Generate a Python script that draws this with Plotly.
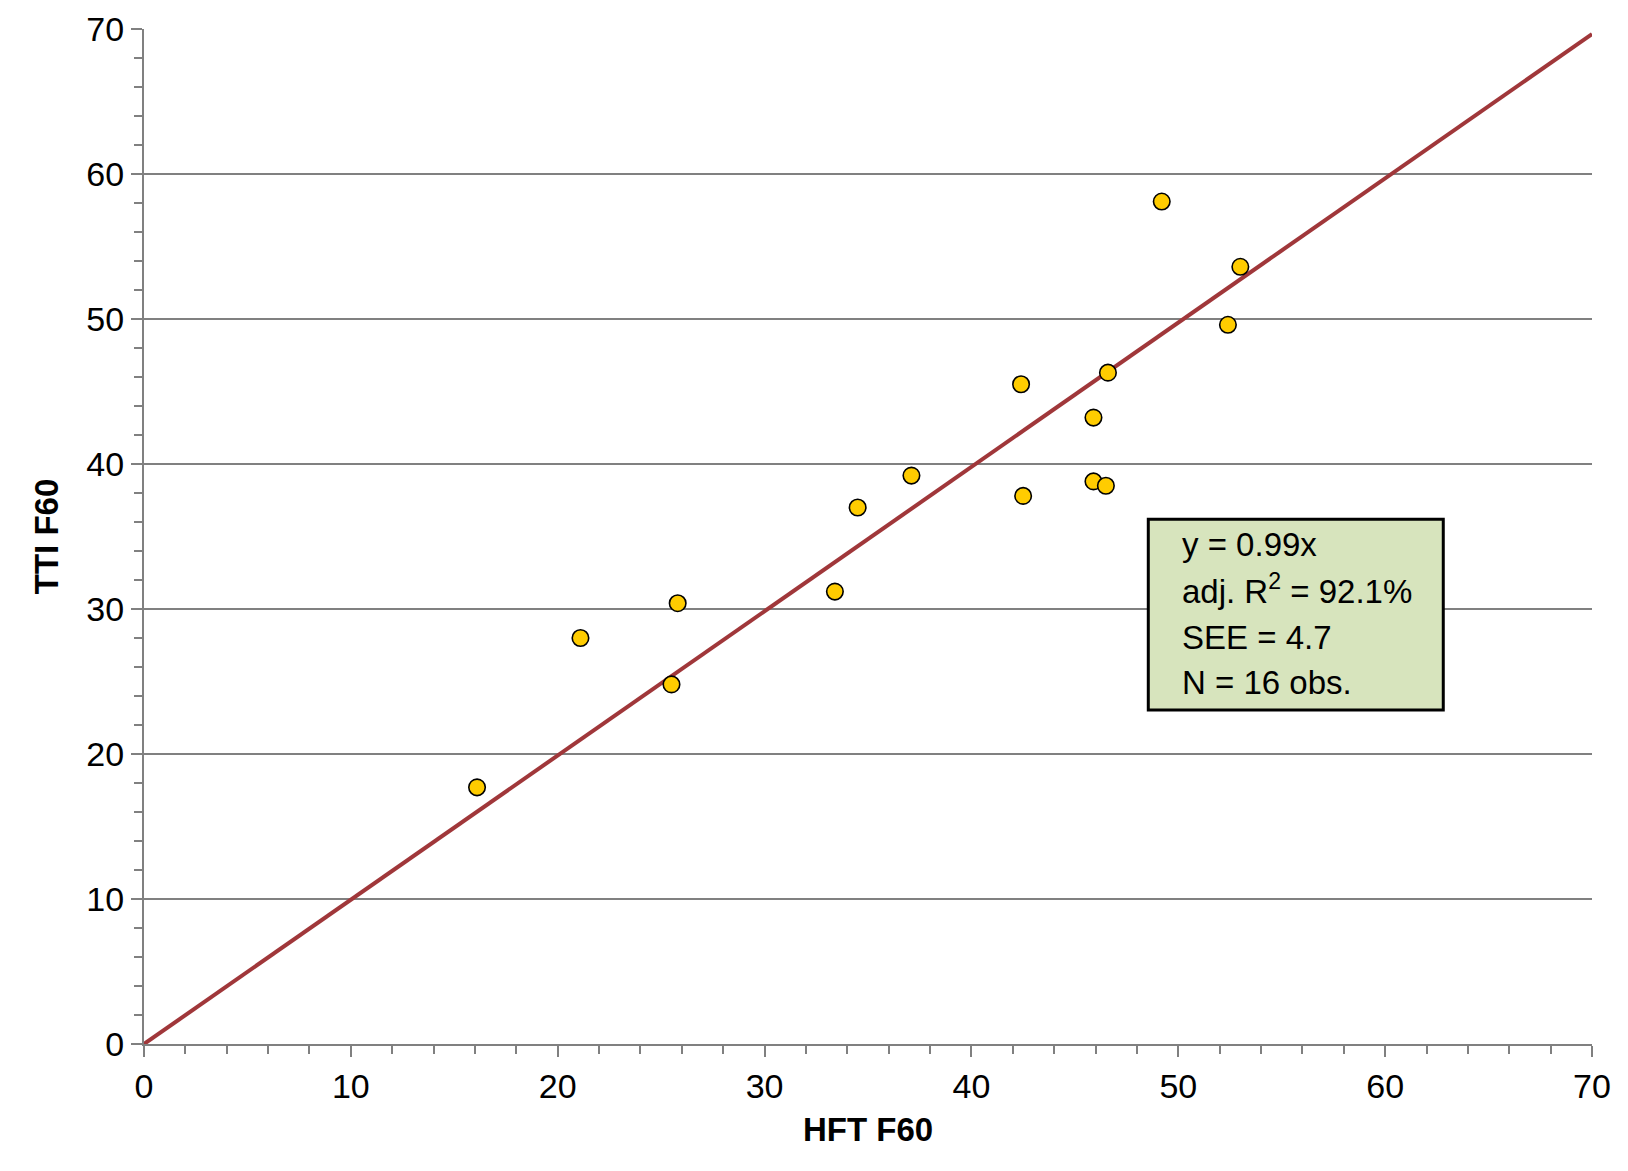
import plotly.graph_objects as go

# Data
hft_f60 = [16.1, 21.1, 25.5, 25.8, 33.4, 34.5, 37.1, 42.4, 42.5, 45.9, 45.9, 46.5, 46.6, 49.2, 52.4, 53.0]
tti_f60 = [17.7, 28.0, 24.8, 30.4, 31.2, 37.0, 39.2, 45.5, 37.8, 43.2, 38.8, 38.5, 46.3, 58.1, 49.6, 53.6]
trend_x = [0, 70]
trend_y = [0, 69.65]
stats_lines = ["y = 0.99x", "adj. R<sup>2</sup> = 92.1%", "SEE = 4.7", "N = 16 obs."]
x_title = "HFT F60"
y_title = "TTI F60"
tick_vals = [0, 10, 20, 30, 40, 50, 60, 70]

FONT = "Liberation Sans, Arial, Helvetica, sans-serif"
GRAY = "#808080"

fig = go.Figure()
fig.add_trace(go.Scatter(
    x=trend_x, y=trend_y, mode="lines",
    line=dict(color="#A0373A", width=4),
    showlegend=False, hoverinfo="skip"))
fig.add_trace(go.Scatter(
    x=hft_f60, y=tti_f60, mode="markers",
    marker=dict(color="#FFCC00", size=16.5, line=dict(color="black", width=1.6)),
    showlegend=False, cliponaxis=False))

axis_common = dict(
    range=[0, 70], tickvals=tick_vals, ticks="outside", ticklen=11, tickwidth=2,
    tickcolor=GRAY, showline=True, linecolor=GRAY, linewidth=2, zeroline=False,
    automargin=False,
    tickfont=dict(family=FONT, size=34, color="black"),
    minor=dict(dtick=2, ticks="outside", ticklen=8, tickwidth=1.5, tickcolor=GRAY, showgrid=False),
)

fig.update_xaxes(**axis_common, showgrid=False,
                 title=dict(text=f"<b>{x_title}</b>", font=dict(family=FONT, size=33, color="black"), standoff=14))
fig.update_yaxes(**axis_common, showgrid=True, gridcolor=GRAY, gridwidth=1.5,
                 title=dict(text=f"<b>{y_title}</b>", font=dict(family=FONT, size=33, color="black"), standoff=18))

# Stats box
fig.add_shape(type="rect", xref="x", yref="y", x0=48.55, x1=62.81, y0=23.03, y1=36.19,
              fillcolor="#D7E4BD", line=dict(color="black", width=3), layer="above")
line_y = [34.47, 31.40, 28.05, 24.95]
for txt, yy in zip(stats_lines, line_y):
    fig.add_annotation(x=50.1, y=yy, xref="x", yref="y", text=txt, showarrow=False,
                       xanchor="left", yanchor="middle",
                       font=dict(family=FONT, size=33, color="black"))

fig.update_layout(
    width=1628, height=1171,
    margin=dict(l=144, r=36, t=29, b=127),
    paper_bgcolor="white", plot_bgcolor="white",
    font=dict(family=FONT, color="black"),
)

fig.write_html("out.html")
